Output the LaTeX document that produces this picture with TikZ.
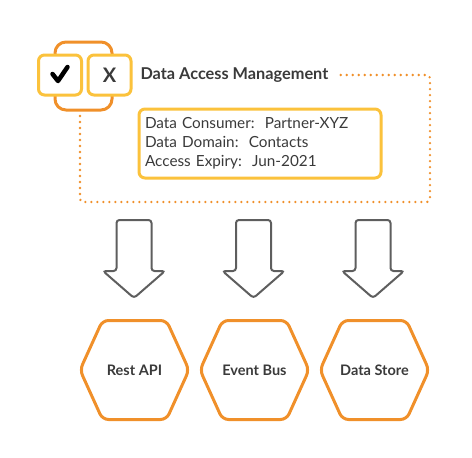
\documentclass[tikz,border=0pt]{standalone}
\usepackage{fontspec}
\setmainfont{Lato}
\usepackage{xcolor}
\definecolor{guardorange}{HTML}{F0902A}
\definecolor{boxyellow}{HTML}{FBC23C}
\definecolor{arrowgrey}{HTML}{5E5E5E}
\definecolor{textgrey}{HTML}{3A3A3A}

\tikzset{
  flagbox/.style={draw=boxyellow, line width=3pt, fill=white, rounded corners=6pt,
                  minimum width=43pt, minimum height=40pt, inner sep=0pt},
  infobox/.style={draw=boxyellow, line width=3pt, rounded corners=6pt, align=left,
                  text width=230pt, minimum height=69pt, inner sep=6pt, text=textgrey,
                  font=\fontsize{15.3}{19}\selectfont},
  hexline/.style={draw=guardorange, line width=3pt, rounded corners=6pt},
  blockarrow/.style={draw=arrowgrey, line width=2pt, rounded corners=3pt},
  dotline/.style={draw=guardorange, line width=2.6pt, line cap=round,
                  dash pattern=on 0pt off 6pt, rounded corners=3pt},
  label/.style={font=\fontsize{14.5}{16}\selectfont\bfseries, text=textgrey}
}

\begin{document}
\begin{tikzpicture}[x=1pt, y=-1pt]
\useasboundingbox (0,0) rectangle (472,458);

% guard shape behind the two flags
\draw[draw=guardorange, line width=3pt, rounded corners=11pt]
       (55,42) rectangle (112,110);
\node [flagbox] (yes) at (60,75) {};
\node [flagbox] (no) at (109.5,75) {};
\draw [line width=4.5pt, line cap=round, line join=round]
       (52.5,74) -- (58,81) -- (67.5,67);
\node [text=textgrey, font=\fontsize{20}{20}\selectfont\bfseries] at (no.center) {X};

\node [label, font=\fontsize{16.3}{18}\selectfont\bfseries, anchor=west] (title)
       at (137,75) {Data Access Management};
\coordinate (guard) at (80,116);
\coordinate (corner) at (430,202);
\draw [dotline] (guard) |- (corner) |- ([xshift=7pt]title.east);

\node [infobox] (grant) at (260,143.5)
       {Data Consumer:\ \ Partner-XYZ\\Data Domain:\ \ Contacts\\Access Expiry:\ \ Jun-2021};

% arrows down to the targets
\foreach \x in {134,253.5,373}
  \draw [blockarrow] (\x-17.5,220) -- (\x+17.5,220) -- (\x+17.5,271)
        -- (\x+31,271) -- (\x,298) -- (\x-31,271) -- (\x-17.5,271) -- cycle;

% targets
\foreach \x/\name/\txt in {134.5/rest/Rest API, 254.5/bus/Event Bus, 374.5/store/Data Store}{
  \node [label] (\name) at (\x,370) {\txt};
  \draw [hexline] ([xshift=-54.5pt]\name.center) -- ([shift={(-32pt,-49.5pt)}]\name.center)
        -- ([shift={(32pt,-49.5pt)}]\name.center) -- ([xshift=54.5pt]\name.center)
        -- ([shift={(32pt,49.5pt)}]\name.center) -- ([shift={(-32pt,49.5pt)}]\name.center)
        -- cycle;
}
\end{tikzpicture}
\end{document}
